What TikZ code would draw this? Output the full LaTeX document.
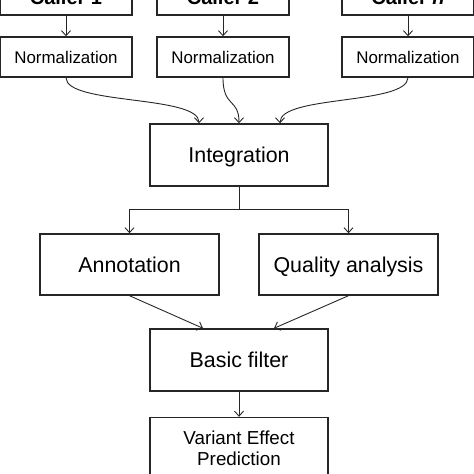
\documentclass[tikz,border=0pt]{standalone}
\usepackage{fontspec}
\setmainfont{Liberation Sans}
\usetikzlibrary{arrows.meta,calc}
\begin{document}
\begin{tikzpicture}[x=1pt,y=-1pt,
  box/.style={draw=black!85, line width=1.4pt, rectangle, inner sep=0pt, text depth=0pt},
  arr/.style={draw=black!85, -{Straight Barb[length=5pt,width=9pt]}, line width=0.9pt},
  lnk/.style={draw=black!85, line width=0.9pt},
  callerbox/.style={box, minimum width=132pt, minimum height=35.4pt, text height=14.4pt, font=\fontsize{20}{24}\selectfont\bfseries},
  normbox/.style={box, minimum width=132pt, minimum height=40pt, text height=12.2pt, font=\fontsize{16.9}{20}\selectfont},
  mainbox/.style={box, minimum width=178pt, minimum height=62pt, text height=15.4pt, font=\fontsize{21.4}{25}\selectfont}]
\useasboundingbox (0,0) rectangle (474,474);
\clip (0,0) rectangle (474,474);
% callers
\node[callerbox] (c1) at (66,-2.7) {Caller 1};
\node[callerbox] (c2) at (223,-2.7) {Caller 2};
\node[callerbox] (c3) at (408,-2.7) {Caller \textit{n}};
% normalization
\node[normbox] (n1) at (66,57) {Normalization};
\node[normbox] (n2) at (223,57) {Normalization};
\node[normbox] (n3) at (408,57) {Normalization};
% integration
\node[mainbox] (int) at (239,155) {Integration};
% annotation / quality
\node[mainbox, minimum width=179pt, minimum height=61pt] (ann) at (129.5,264.5) {Annotation};
\node[mainbox, minimum width=179pt, minimum height=61pt] (qa) at (348.5,264.5) {Quality analysis};
% basic filter
\node[mainbox] (bf) at (239,360) {Basic filter};
% variant effect prediction
\node[draw=black!85, line width=1.4pt, rectangle, inner sep=0pt, minimum width=178pt, minimum height=62pt, align=center, font=\fontsize{18.8}{21}\selectfont] (vep) at (239,448.5) {Variant Effect\\Prediction};
% connectors
\draw[arr] (c1) -- (n1);
\draw[arr] (c2) -- (n2);
\draw[arr] (c3) -- (n3);
\draw[arr] (n1.south) .. controls (66,105) and (199,95) .. ($(int.north)+(-40,0)$);
\draw[arr] (n2.south) .. controls (223,108) and (239,98) .. (int.north);
\draw[arr] (n3.south) .. controls (407,105) and (280,95) .. ($(int.north)+(41,0)$);
\coordinate (split) at (239,209);
\draw[lnk] (int.south) -- (split);
\draw[arr] (split) -| (ann.north);
\draw[arr] (split) -| (qa.north);
\draw[arr] (ann.south) -- ($(bf.north)+(-36,0)$);
\draw[arr] (qa.south) -- ($(bf.north)+(35,0)$);
\draw[arr] (bf) -- (vep);
\end{tikzpicture}
\end{document}
